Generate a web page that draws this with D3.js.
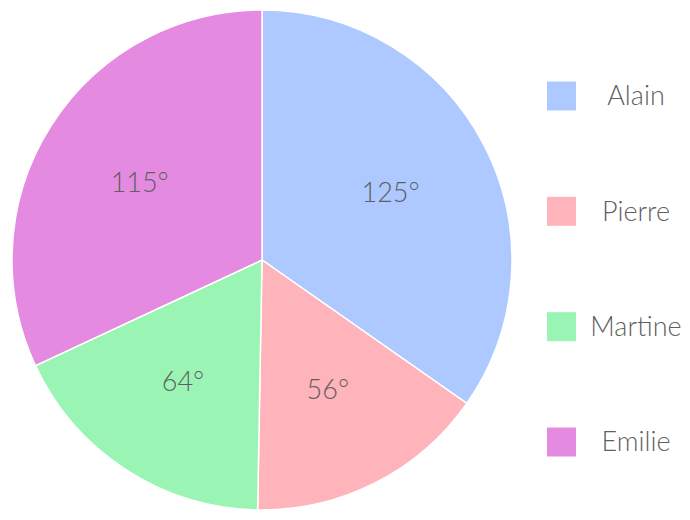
<!DOCTYPE html>
<html>
<head>
<meta charset="utf-8">
<script src="https://cdn.jsdelivr.net/npm/d3@7"></script>
<style>
  body { margin: 0; background: #fff; }
  text { font-family: Lato, sans-serif; font-weight: 300; fill: #5f5f5f; }
</style>
</head>
<body>
<script>
// names, angles (degrees) and colours of the pie
const names = ["Alain", "Pierre", "Martine", "Emilie"]
const angles = [125, 56, 64, 115]
const colors = ["#adc9ff", "#ffb3ba", "#9af5b5", "#e58ae1"]

const width = 690, height = 520
const cx = 262, cy = 260, radius = 250

const svg = d3.select("body").append("svg")
    .attr("width", width)
    .attr("height", height)

const pie = d3.pie().sort(null).value(d => d)
const arcs = pie(angles)

const arc = d3.arc().innerRadius(0).outerRadius(radius)
const labelArc = d3.arc().innerRadius(290).outerRadius(0) // centroid at ~145

const g = svg.append("g").attr("transform", `translate(${cx},${cy})`)

g.selectAll(".slice")
    .data(arcs)
    .join("path")
    .attr("class", "slice")
    .attr("d", arc)
    .attr("fill", (d, i) => colors[i])
    .attr("stroke", "#fff")
    .attr("stroke-width", 1.5)

g.selectAll(".slice-label")
    .data(arcs)
    .join("text")
    .attr("class", "slice-label")
    .attr("transform", d => `translate(${labelArc.centroid(d)})`)
    .attr("text-anchor", "middle")
    .attr("dy", "0.35em")
    .style("font-size", "27px")
    .text(d => d.data + "°")

// legend
const y = d3.scalePoint().domain(names).range([96, 442])

const legend = svg.append("g")
legend.selectAll("rect")
    .data(names)
    .join("rect")
    .attr("x", 547)
    .attr("y", d => y(d) - 14.5)
    .attr("width", 29)
    .attr("height", 29)
    .attr("fill", (d, i) => colors[i])

legend.selectAll("text")
    .data(names)
    .join("text")
    .attr("x", 636)
    .attr("y", d => y(d))
    .attr("dy", "0.35em")
    .attr("text-anchor", "middle")
    .style("font-size", "27px")
    .text(d => d)
</script>
</body>
</html>
